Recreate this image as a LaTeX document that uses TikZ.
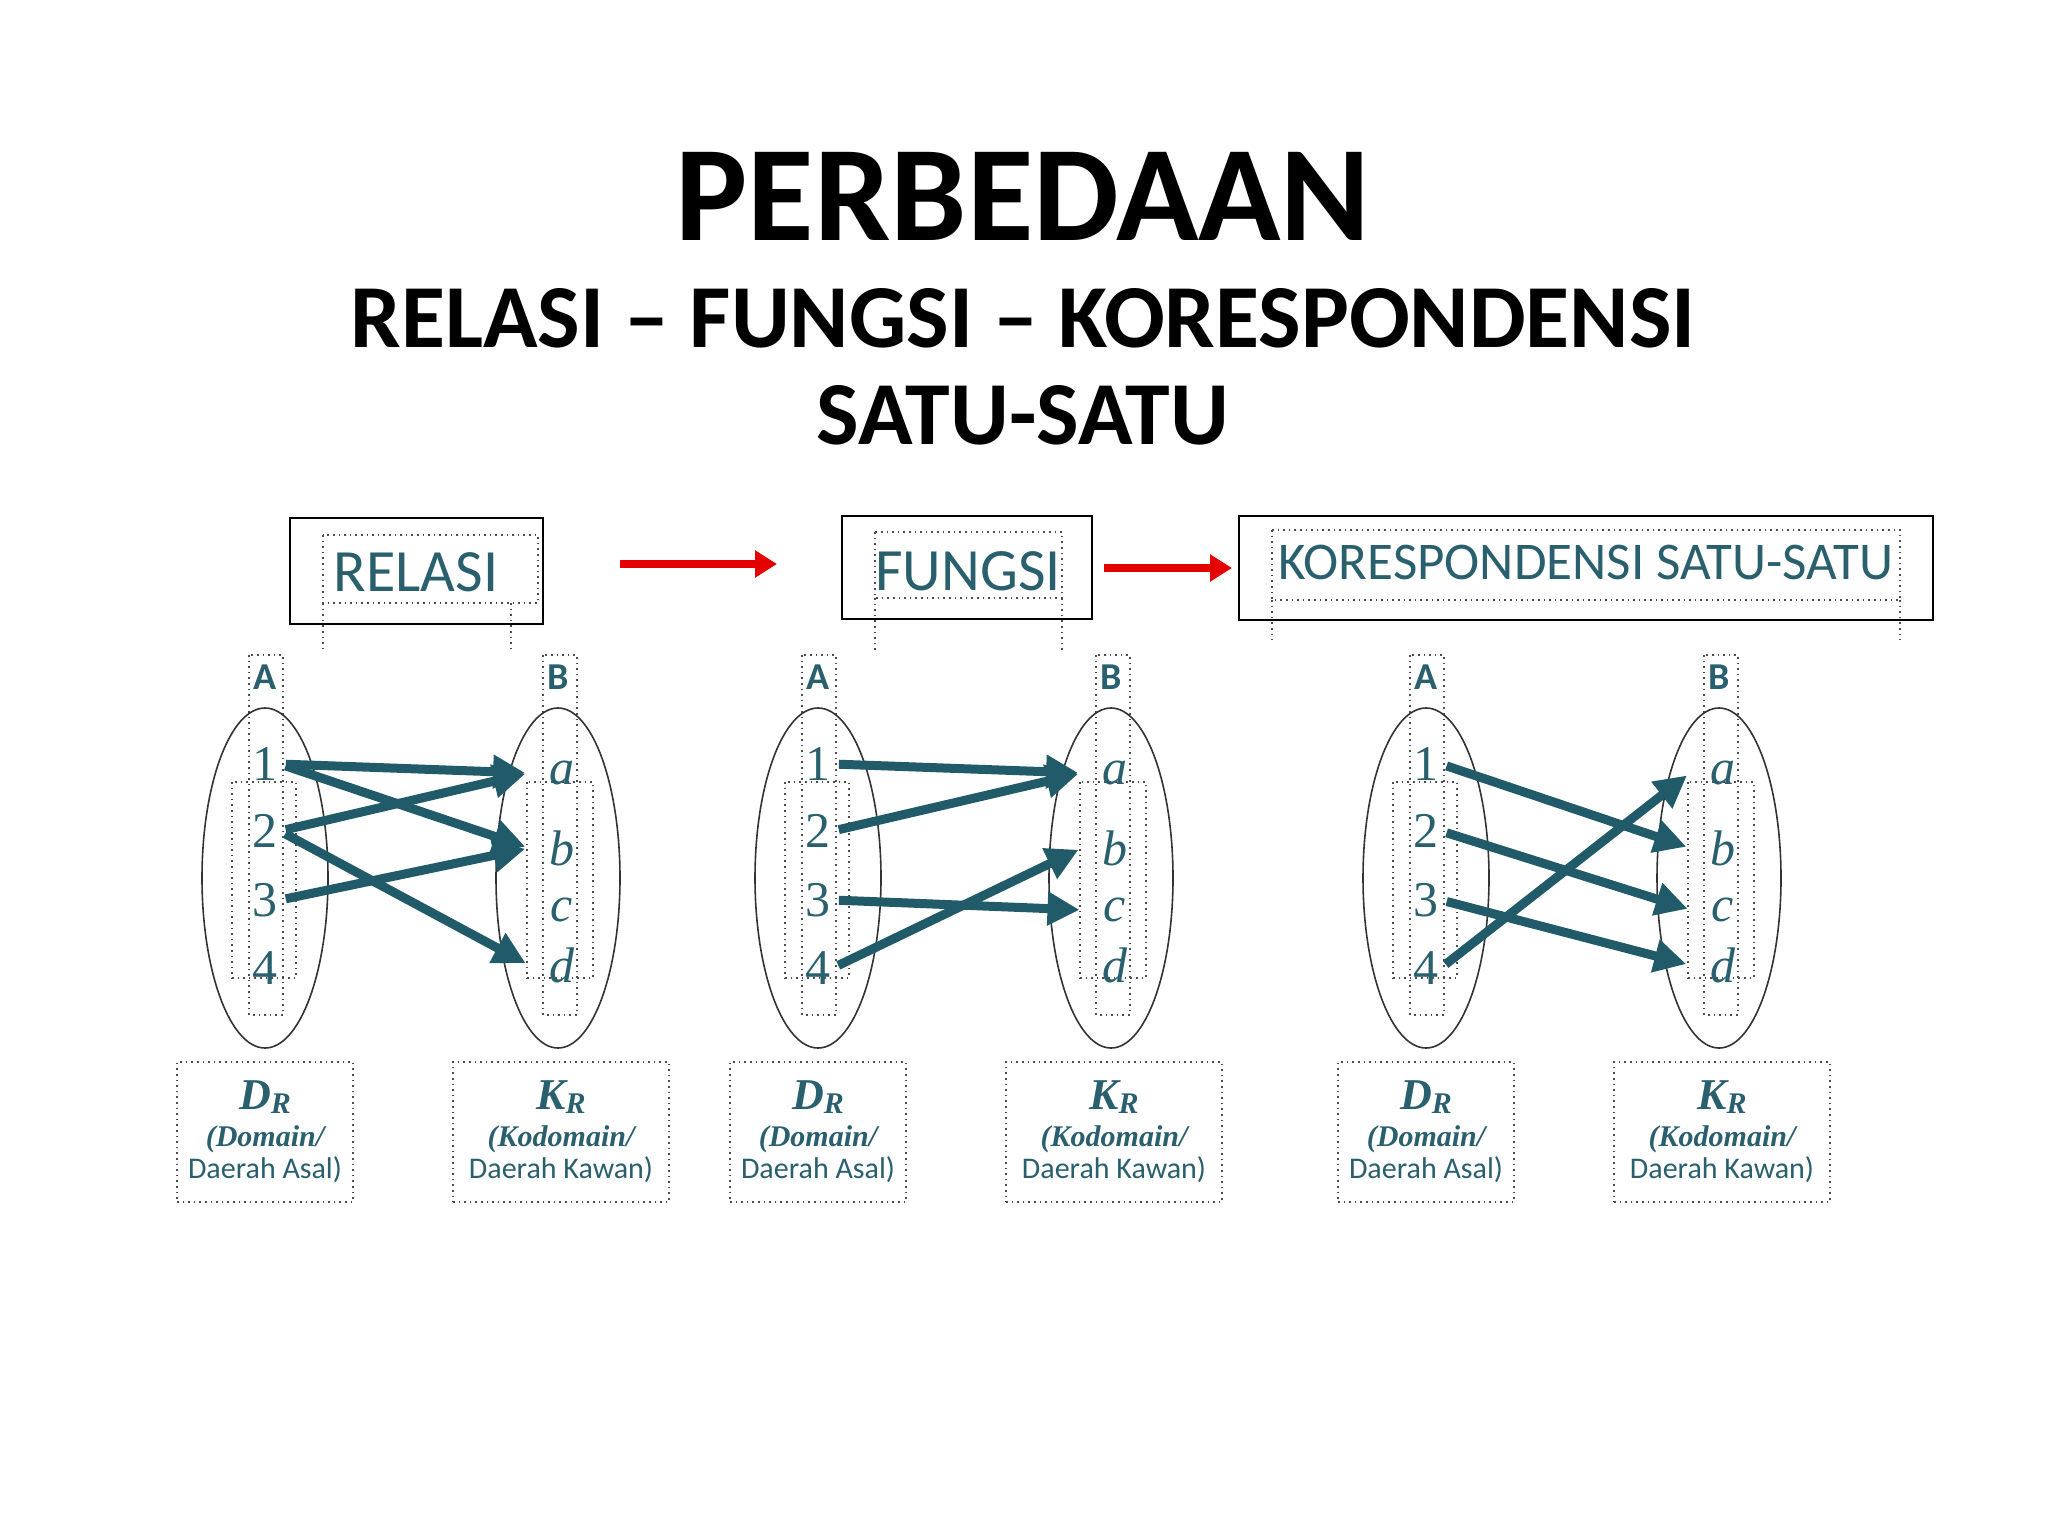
\documentclass[tikz,border=0pt]{standalone}
\usepackage{fontspec}
\setmainfont{Carlito}
\newfontfamily\serf{Liberation Serif}
\usetikzlibrary{arrows.meta}
\definecolor{teal1}{HTML}{215A68}
\definecolor{tealtxt}{HTML}{2A5F6E}
\tikzset{
 dotbox/.style={draw=black!70,dotted,line width=0.8pt},
 hdr/.style={draw=black,line width=0.9pt},
 num/.style={font=\serf\fontsize{25}{25}\selectfont,text=tealtxt,inner sep=1pt},
 let/.style={font=\serf\itshape\fontsize{25}{25}\selectfont,text=tealtxt,inner sep=1pt},
 setl/.style={font=\bfseries\fontsize{19}{19}\selectfont,text=tealtxt,inner sep=1pt},
 arr/.style={draw=teal1,line width=4.5pt,-{Triangle[length=16pt,width=16pt]},shorten >=2pt,shorten <=3pt},
 red/.style={draw=red!90!black,line width=4pt,-{Triangle[length=11pt,width=13pt]}},
 lbl/.style={dotbox,align=center,text=tealtxt,inner sep=2pt},
}
\newcommand{\mypanel}[2]{%
\begin{scope}[xshift=#2]
 \node[setl] (#1A) at (265,677) {A};
 \node[setl] (#1B) at (558,677) {B};
 \draw[dotbox] (249,655) rectangle (283,1015);
 \draw[dotbox] (232,782) rectangle (296,978);
 \draw[dotbox] (543,655) rectangle (577,1015);
 \draw[dotbox] (527,782) rectangle (593,978);
 \draw[black!80,line width=0.8pt] (265,878) ellipse [x radius=63,y radius=170];
 \draw[black!80,line width=0.8pt] (558,878) ellipse [x radius=62,y radius=170];
 \node[num] (#1n1) at (265,764) {1};
 \node[num] (#1n2) at (265,831) {2};
 \node[num] (#1n3) at (265,900) {3};
 \node[num] (#1n4) at (265,968) {4};
 \node[let] (#1la) at (562,773) {a};
 \node[let] (#1lb) at (562,848) {b};
 \node[let] (#1lc) at (562,910) {c};
 \node[let] (#1ld) at (562,965) {d};
 \node[lbl,minimum width=88pt,minimum height=70pt] (#1D) at (265,1132)
  {{\serf\bfseries\itshape\fontsize{22}{22}\selectfont D\raisebox{-2pt}{\fontsize{15}{15}\selectfont R}}\\[5pt]
   {\serf\bfseries\itshape\fontsize{15}{15}\selectfont (Domain/}\\[1pt]{\fontsize{15}{15}\selectfont Daerah Asal)}};
 \node[lbl,minimum width=108pt,minimum height=70pt] (#1K) at (561,1132)
  {{\serf\bfseries\itshape\fontsize{22}{22}\selectfont K\raisebox{-2pt}{\fontsize{15}{15}\selectfont R}}\\[5pt]
   {\serf\bfseries\itshape\fontsize{15}{15}\selectfont (Kodomain/}\\[1pt]{\fontsize{15}{15}\selectfont Daerah Kawan)}};
\end{scope}}
\begin{document}
\begin{tikzpicture}[x=0.5pt,y=-0.5pt]
\useasboundingbox (0,0) rectangle (2048,1536);
\fill[white] (0,0) rectangle (2048,1536);
\node[font=\bfseries\fontsize{68}{68}\selectfont] (t1) at (1023,196) {PERBEDAAN};
\node[font=\bfseries\fontsize{45}{45}\selectfont] (t2) at (1023,318) {RELASI – FUNGSI – KORESPONDENSI};
\node[font=\bfseries\fontsize{45}{45}\selectfont] (t3) at (1023,415) {SATU-SATU};
% headers
\draw[hdr] (290,518) rectangle (543,624);
\draw[dotbox] (323,535) rectangle (538,603);
\draw[dotbox] (323,603) -- (323,653) (511,603) -- (511,653);
\node[font=\fontsize{30}{30}\selectfont,text=tealtxt] (hR) at (416,572) {RELASI};
\draw[hdr] (842,516) rectangle (1092,619);
\draw[dotbox] (875,532) rectangle (1062,598);
\draw[dotbox] (875,598) -- (875,650) (1062,598) -- (1062,650);
\node[font=\fontsize{30}{30}\selectfont,text=tealtxt] (hF) at (968,571) {FUNGSI};
\draw[hdr] (1239,516) rectangle (1933,620);
\draw[dotbox] (1272,530) rectangle (1900,600);
\draw[dotbox] (1272,600) -- (1272,640) (1900,600) -- (1900,640);
\node[font=\fontsize{26.5}{26.5}\selectfont,text=tealtxt] (hK) at (1586,562) {KORESPONDENSI SATU-SATU};
\coordinate (r1s) at (620,564); \coordinate (r1e) at (777,564);
\coordinate (r2s) at (1104,568); \coordinate (r2e) at (1232,568);
\draw[red] (r1s) -- (r1e);
\draw[red] (r2s) -- (r2e);
\mypanel{p}{0pt}
\mypanel{q}{276.5pt}
\mypanel{r}{580.5pt}
\draw[arr] (pn1.east) -- ([xshift=-9pt]pla.west);
\draw[arr] (pn1.east) -- ([xshift=-9pt]plb.west);
\draw[arr] (pn2.east) -- ([xshift=-9pt]pla.west);
\draw[arr] (pn2.east) -- ([xshift=-9pt]pld.west);
\draw[arr] (pn3.east) -- ([xshift=-9pt]plb.west);
\draw[arr] (qn1.east) -- ([xshift=-9pt]qla.west);
\draw[arr] (qn2.east) -- ([xshift=-9pt]qla.west);
\draw[arr] (qn3.east) -- ([xshift=-9pt]qlc.west);
\draw[arr] (qn4.east) -- ([xshift=-9pt]qlb.west);
\draw[arr] (rn1.east) -- ([xshift=-9pt]rlb.west);
\draw[arr] (rn2.east) -- ([xshift=-9pt]rlc.west);
\draw[arr] (rn3.east) -- ([xshift=-9pt]rld.west);
\draw[arr] (rn4.east) -- ([xshift=-9pt]rla.west);
\end{tikzpicture}
\end{document}
